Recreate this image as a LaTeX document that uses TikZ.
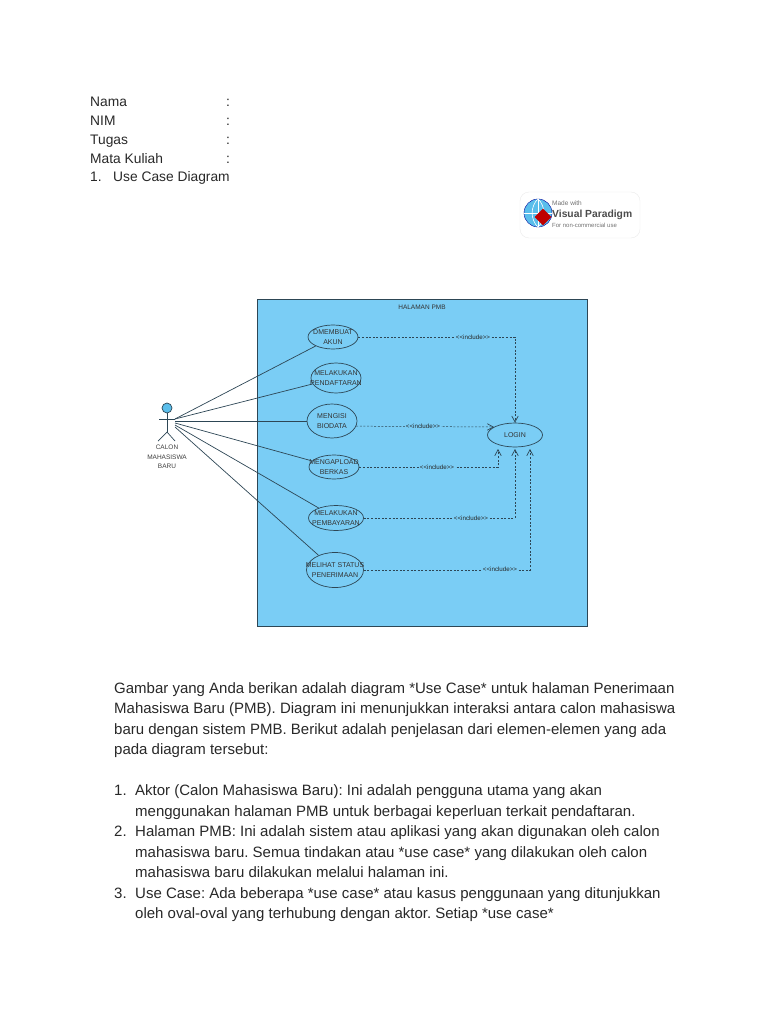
\documentclass[tikz,border=0pt]{standalone}
\usepackage{xcolor}
\usepackage{fontspec}
\setmainfont{Liberation Sans}
\usepackage{tikz}
\usetikzlibrary{arrows.meta,positioning,shapes.geometric}
\definecolor{sysblue}{RGB}{122,205,245}
\definecolor{headblue}{RGB}{90,190,235}
\definecolor{edgedark}{RGB}{45,70,85}
\definecolor{inkgray}{RGB}{40,40,40}
\newcommand{\incltext}{<{}<include>{}>}

\begin{document}
\frenchspacing
\begin{tikzpicture}[
      x=1pt, y=-1pt,
      every node/.style={inner sep=0pt},
      head/.style={font=\fontsize{13.8}{16}\selectfont, text=inkgray, anchor=base west},
      body/.style={font=\fontsize{15}{16}\selectfont, text=inkgray, anchor=base west},
      usecase/.style={draw=edgedark, ellipse, inner sep=0pt, line width=0.7pt},
      uctext/.style={align=center, font=\fontsize{7}{10}\selectfont, text=black!80},
      tag/.style={font=\fontsize{6.2}{8}\selectfont, text=black!85, fill=sysblue, inner xsep=0.5pt},
      assoc/.style={draw=edgedark, line width=0.7pt},
      incl/.style={draw=edgedark, line width=0.5pt, dash pattern=on 2pt off 1.6pt,
        -{Straight Barb[length=6pt,width=6.5pt,line width=0.7pt]}}
    ]
    \useasboundingbox (0,0) rectangle (768,1024);

    % header
    \node[head] (nama) at (90,107) {Nama};
    \node[head] (nim) at (90,126) {NIM};
    \node[head] (tugas) at (90,145) {Tugas};
    \node[head] (matkul) at (90,164) {Mata Kuliah};
    \node[head] (colon1) at (226,107) {:};
    \node[head] (colon2) at (226,126) {:};
    \node[head] (colon3) at (226,145) {:};
    \node[head] (colon4) at (226,164) {:};
    \node[head] (no1) at (90,182) {1.};
    \node[head] (title) at (113,182) {Use Case Diagram};

    % logo
    \node[draw=black!8, fill=white, rounded corners=9pt, minimum width=120pt, minimum height=46pt] (logo) at (580,215) {};
    \node[circle, draw=blue!60!black, fill=headblue, minimum size=28pt] (globe) at (538,213) {};
    \draw[white, line width=0.6pt] (globe.north) -- (globe.south);
    \draw[white, line width=0.6pt] (globe.west) -- (globe.east);
    \draw[white, line width=0.6pt] (globe.north) to[bend right=45] (globe.south);
    \draw[white, line width=0.6pt] (globe.north) to[bend left=45] (globe.south);
    \node[diamond, fill=red!75!black, minimum size=17pt] (mark) at (543,217) {};
    \node[anchor=base west, font=\fontsize{6.5}{7}\selectfont, text=black!55] (made) at (552,206) {Made with};
    \node[anchor=base west, font=\bfseries\fontsize{10.3}{12}\selectfont, text=black!70] (vp) at (552,218) {Visual Paradigm};
    \node[anchor=base west, font=\fontsize{6}{7}\selectfont, text=black!55] (noncomm) at (552,227) {For non-commercial use};

    % system box
    \node[draw=edgedark, fill=sysblue, line width=0.8pt, minimum width=330pt, minimum height=327pt] (pmb) at (422,462.5) {};
    \node[font=\fontsize{6.5}{8}\selectfont, text=black!80] (pmbtitle) at (422,307) {HALAMAN PMB};

    % use cases
    \node[usecase, minimum width=50pt, minimum height=24pt] (akun) at (333,337) {};
    \node[usecase, minimum width=50pt, minimum height=30pt] (daftar) at (336,378) {};
    \node[usecase, minimum width=50pt, minimum height=34pt] (biodata) at (332,421) {};
    \node[usecase, minimum width=50pt, minimum height=24pt] (berkas) at (334,467) {};
    \node[usecase, minimum width=55pt, minimum height=25pt] (bayar) at (336,518) {};
    \node[usecase, minimum width=57pt, minimum height=35pt] (status) at (335,570) {};
    \node[usecase, minimum width=55pt, minimum height=24pt] (login) at (515,435) {};
    \node[uctext] (akuntext) at (akun) {DMEMBUAT\\AKUN};
    \node[uctext] (daftartext) at (daftar) {MELAKUKAN\\PENDAFTARAN};
    \node[uctext] (biodatatext) at (biodata) {MENGISI\\BIODATA};
    \node[uctext] (berkastext) at (berkas) {MENGAPLOAD\\BERKAS};
    \node[uctext] (bayartext) at (bayar) {MELAKUKAN\\PEMBAYARAN};
    \node[uctext] (statustext) at (status) {MELIHAT STATUS\\PENERIMAAN};
    \node[uctext] (logintext) at (login) {LOGIN};

    % actor
    \node[circle, draw=edgedark, fill=headblue, line width=0.7pt, minimum size=10pt] (actorhead) at (167,408) {};
    \coordinate (hip) at (167,432);
    \coordinate (hand) at (175,419);
    \draw[assoc] (actorhead) -- (hip);
    \draw[assoc] (159,419) -- (hand);
    \draw[assoc] (158,441) -- (hip) -- (175,441);
    \node[align=center, font=\fontsize{6.5}{9.5}\selectfont, text=black!75] (actor) at (167,457) {CALON\\MAHASISWA\\BARU};

    % associations
    \draw[assoc] (hand) -- (akun);
    \draw[assoc] (hand) -- (daftar);
    \draw[assoc] (175,421) -- (biodata);
    \draw[assoc] (175,423) -- (berkas);
    \draw[assoc] (175,425) -- (bayar);
    \draw[assoc] (175,427) -- (status);

    % includes
    \coordinate (tipl) at (494,427);
    \coordinate (tipa) at (498,449);
    \coordinate (tipb) at (515,449);
    \coordinate (tipc) at (530,449);
    \draw[incl] (akun.east) -| (login.north);
    \node[tag] (inca) at (473,337) {\incltext};
    \draw[incl] (biodata.-12) -- (tipl);
    \node[tag] (incb) at (423,426) {\incltext};
    \draw[incl] (berkas.east) -| (tipa);
    \node[tag] (incc) at (437,467) {\incltext};
    \draw[incl] (bayar.east) -| (tipb);
    \node[tag] (incd) at (471,518) {\incltext};
    \draw[incl] (status.east) -| (tipc);
    \node[tag] (ince) at (500,569) {\incltext};

    % text below
    \node[body] (para1) at (114,693) {Gambar yang Anda berikan adalah diagram *Use Case* untuk halaman Penerimaan};
    \node[body] (para2) at (114,713) {Mahasiswa Baru (PMB). Diagram ini menunjukkan interaksi antara calon mahasiswa};
    \node[body] (para3) at (114,734) {baru dengan sistem PMB. Berikut adalah penjelasan dari elemen-elemen yang ada};
    \node[body] (para4) at (114,754) {pada diagram tersebut:};
    \node[body] (li1) at (114,795) {1.};
    \node[body] (item1a) at (135,795) {Aktor (Calon Mahasiswa Baru): Ini adalah pengguna utama yang akan};
    \node[body] (item1b) at (135,816) {menggunakan halaman PMB untuk berbagai keperluan terkait pendaftaran.};
    \node[body] (li2) at (114,836) {2.};
    \node[body] (item2a) at (135,836) {Halaman PMB: Ini adalah sistem atau aplikasi yang akan digunakan oleh calon};
    \node[body] (item2b) at (135,857) {mahasiswa baru. Semua tindakan atau *use case* yang dilakukan oleh calon};
    \node[body] (item2c) at (135,877) {mahasiswa baru dilakukan melalui halaman ini.};
    \node[body] (li3) at (114,898) {3.};
    \node[body] (item3a) at (135,898) {Use Case: Ada beberapa *use case* atau kasus penggunaan yang ditunjukkan};
    \node[body] (item3b) at (135,918) {oleh oval-oval yang terhubung dengan aktor. Setiap *use case*};
  \end{tikzpicture}
\end{document}
